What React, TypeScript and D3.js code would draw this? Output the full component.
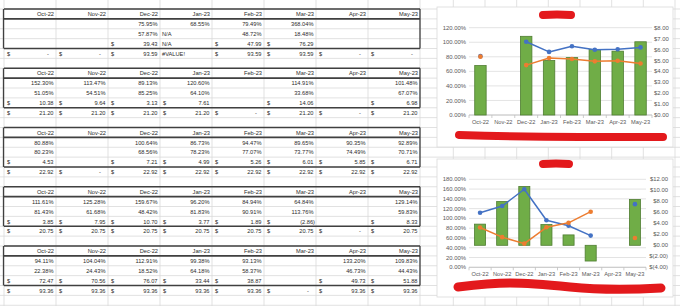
import * as d3 from "d3";

const months = ["Oct-22", "Nov-22", "Dec-22", "Jan-23", "Feb-23", "Mar-23", "Apr-23", "May-23"];

type Cell = number | string | null;

// block 1
const b1Rate: Cell[] = [null, null, 0.7595, 0.6855, 0.7949, 3.6804, null, null];
const b1Share: Cell[] = [null, null, 0.5787, "N/A", 0.4872, 0.1848, null, null];
const b1Cost: Cell[] = [null, null, 39.43, "N/A", 47.99, 76.29, null, null];
const b1Price: Cell[] = [0, 0, 93.59, "#VALUE!", 93.59, 93.59, 0, 0];
// block 2
const b2Rate: Cell[] = [1.523, 1.1347, 0.8913, 1.206, null, 1.1491, null, 1.0148];
const b2Share: Cell[] = [0.5105, 0.5451, 0.8525, 0.641, null, 0.3368, null, 0.6707];
const b2Cost: Cell[] = [10.38, 9.64, 3.13, 7.61, null, 14.06, null, 6.98];
const b2Price: Cell[] = [21.2, 21.2, 21.2, 21.2, 0, 21.2, 0, 21.2];
// block 3 (top chart)
const b3Rate = [0.8088, null, 1.0064, 0.8673, 0.9447, 0.8965, 0.9035, 0.9289];
const b3Share = [0.8023, null, 0.6856, 0.7823, 0.7707, 0.7377, 0.7449, 0.7071];
const b3Cost = [4.53, null, 7.21, 4.99, 5.26, 6.01, 5.85, 6.71];
const b3Price: Cell[] = [22.92, 0, 22.92, 22.92, 22.92, 22.92, 22.92, 22.92];
// block 4 (bottom chart)
const b4Rate = [1.1161, 1.2528, 1.5967, 0.962, 0.8494, 0.6484, null, 1.2914];
const b4Share = [0.8143, 0.6168, 0.4842, 0.8183, 0.9091, 1.1376, null, 0.5983];
const b4Cost = [3.85, 7.95, 10.7, 3.77, 1.89, -2.86, null, 8.33];
const b4Price: Cell[] = [20.75, 20.75, 20.75, 20.75, 20.75, 20.75, 0, 20.75];
// block 5
const b5Rate: Cell[] = [0.9411, 1.0404, 1.1291, 0.9938, 0.9313, null, 1.332, 1.0983];
const b5Share: Cell[] = [0.2238, 0.2443, 0.1852, 0.6418, 0.5837, null, 0.4673, 0.4443];
const b5Cost: Cell[] = [72.47, 70.56, 76.07, 33.44, 38.87, null, 49.73, 51.88];
const b5Price: Cell[] = [93.36, 93.36, 93.36, 93.36, 93.36, 0, 93.36, 93.36];

const topLeftTicks = [0, 0.2, 0.4, 0.6, 0.8, 1.0, 1.2];
const topRightTicks = [0, 1, 2, 3, 4, 5, 6, 7, 8];
const botLeftTicks = [0, 0.2, 0.4, 0.6, 0.8, 1.0, 1.2, 1.4, 1.6, 1.8];
const botRightTicks = [-4, -2, 0, 2, 4, 6, 8, 10, 12];

const blocks = [
  [b1Rate, b1Share, b1Cost, b1Price],
  [b2Rate, b2Share, b2Cost, b2Price],
  [b3Rate, b3Share, b3Cost, b3Price],
  [b4Rate, b4Share, b4Cost, b4Price],
  [b5Rate, b5Share, b5Cost, b5Price],
];

const W = 680;
const H = 306;
const ROW_H = 9.875;
const ROW0 = 9;
const COL0 = 4;
const COL_W = 52;
const FONT = "'Liberation Sans', Arial, sans-serif";
const GRID = "#d9d9d9";
const BORDER = "#404040";
const INK = "#2b2b2b";
const AXIS_INK = "#595959";
const RED = "#e3191c";

const rowTop = (r: number) => ROW0 + r * ROW_H;
const colX = d3.scaleLinear().domain([0, 8]).range([COL0, COL0 + 8 * COL_W]);
const pct = d3.format(".2%");

function CellText({ v, col, row, kind }: { v: Cell; col: number; row: number; kind: "pct" | "usd" }) {
  if (v === null) return null;
  const l = colX(col);
  const r = colX(col + 1);
  const y = rowTop(row) + 7.2;
  if (typeof v === "string") {
    return <text x={l + 2} y={y}>{v}</text>;
  }
  if (kind === "pct") {
    return <text x={r - 2.5} y={y} textAnchor="end">{pct(v)}</text>;
  }
  let body;
  if (v === 0) body = <text x={r - 7} y={y} textAnchor="end">-</text>;
  else if (v < 0) body = <text x={r - 1} y={y} textAnchor="end">{`(${Math.abs(v).toFixed(2)})`}</text>;
  else body = <text x={r - 2.5} y={y} textAnchor="end">{v.toFixed(2)}</text>;
  return (
    <g>
      <text x={l + 3} y={y}>$</text>
      {body}
    </g>
  );
}

function Sheet() {
  const hLines = d3.range(-1, 31).map(rowTop);
  const vLines = [COL0, ...d3.range(1, 9).map((i) => colX(i)), 453.3, 485, 516.7, 548.3, 580, 611.7, 643.3, 675];
  const left = colX(0);
  const right = colX(8);
  return (
    <g>
      {hLines.map((y, i) => (
        <line key={`h${i}`} x1={0} x2={W} y1={y} y2={y} stroke={GRID} strokeWidth={0.8} />
      ))}
      {vLines.map((x, i) => (
        <line key={`v${i}`} x1={x} x2={x} y1={0} y2={H} stroke={GRID} strokeWidth={0.8} />
      ))}
      {blocks.map((b, s) => {
        const r0 = s * 6;
        const kinds: ("pct" | "usd")[] = ["pct", "pct", "usd", "usd"];
        return (
          <g key={s}>
            <g fontFamily={FONT} fontSize={5.7} fill={INK}>
              {months.map((m, c) => (
                <text key={m} x={colX(c + 1) - 2} y={rowTop(r0) + 7.2} textAnchor="end">
                  {m}
                </text>
              ))}
              {b.map((vals, k) =>
                vals.map((v, c) => <CellText key={`${k}-${c}`} v={v} col={c} row={r0 + 1 + k} kind={kinds[k]} />)
              )}
            </g>
            <g stroke={BORDER} fill="none">
              <line x1={left} x2={right} y1={rowTop(r0)} y2={rowTop(r0)} strokeWidth={1.3} />
              <line x1={left} x2={right} y1={rowTop(r0 + 1)} y2={rowTop(r0 + 1)} strokeWidth={1.6} />
              <line x1={left} x2={right} y1={rowTop(r0 + 4)} y2={rowTop(r0 + 4)} strokeWidth={1.3} />
              <line x1={left - 0.5} x2={left - 0.5} y1={rowTop(r0)} y2={rowTop(r0 + 4)} strokeWidth={1.3} />
              <line x1={right} x2={right} y1={rowTop(r0)} y2={rowTop(r0 + 4)} strokeWidth={1.3} />
            </g>
          </g>
        );
      })}
    </g>
  );
}

interface ChartProps {
  box: { x: number; y: number; w: number; h: number };
  plot: { x0: number; x1: number; top: number; bottom: number };
  leftTicks: number[];
  rightTicks: number[];
  rightLabelX: number;
  rightAnchor: "start" | "end";
  catLabelY: number;
  rate: (number | null)[];
  share: (number | null)[];
  cost: (number | null)[];
  titleBlob: string;
  footBlob: string;
  footWidth: number;
}

const usd = (v: number) => (v < 0 ? `$(${Math.abs(v).toFixed(2)})` : `$${v.toFixed(2)}`);

function ComboChart(p: ChartProps) {
  const x = d3.scaleBand<string>().domain(months).range([p.plot.x0, p.plot.x1]).padding(0);
  const yL = d3
    .scaleLinear()
    .domain([p.leftTicks[0], p.leftTicks[p.leftTicks.length - 1]])
    .range([p.plot.bottom, p.plot.top]);
  const yR = d3
    .scaleLinear()
    .domain([p.rightTicks[0], p.rightTicks[p.rightTicks.length - 1]])
    .range([p.plot.bottom, p.plot.top]);
  const bw = x.bandwidth() * 0.5;
  const cx = (i: number) => (x(months[i]) ?? 0) + x.bandwidth() / 2;

  const line = d3
    .line<number | null>()
    .defined((d) => d !== null)
    .x((_, i) => cx(i))
    .y((d) => yL(d as number));

  return (
    <g fontFamily={FONT}>
      <rect x={p.box.x} y={p.box.y} width={p.box.w} height={p.box.h} fill="#fff" stroke={GRID} strokeWidth={0.8} />
      {p.leftTicks.map((t) => (
        <g key={t}>
          <line x1={p.plot.x0} x2={p.plot.x1} y1={yL(t)} y2={yL(t)} stroke={GRID} strokeWidth={0.75} />
          <text x={p.plot.x0 - 3} y={yL(t)} dy="0.35em" textAnchor="end" fontSize={5.9} fill={AXIS_INK}>
            {pct(t)}
          </text>
        </g>
      ))}
      {p.rightTicks.map((t) => (
        <text key={t} x={p.rightLabelX} y={yR(t)} dy="0.35em" textAnchor={p.rightAnchor} fontSize={5.9} fill={AXIS_INK}>
          {usd(t)}
        </text>
      ))}
      <line x1={p.plot.x0} x2={p.plot.x1} y1={p.plot.bottom} y2={p.plot.bottom} stroke="#bfbfbf" strokeWidth={0.8} />
      {d3.range(0, 9).map((i) => {
        const xx = p.plot.x0 + i * x.bandwidth();
        return <line key={i} x1={xx} x2={xx} y1={p.plot.bottom} y2={p.plot.bottom + 3} stroke="#bfbfbf" strokeWidth={0.8} />;
      })}
      {months.map((m, i) => (
        <text key={m} x={cx(i)} y={p.catLabelY} textAnchor="middle" fontSize={5.7} fill={AXIS_INK}>
          {m}
        </text>
      ))}
      {p.cost.map((v, i) =>
        v === null ? null : (
          <rect
            key={i}
            x={cx(i) - bw / 2}
            y={Math.min(yR(v), yR(0))}
            width={bw}
            height={Math.abs(yR(v) - yR(0))}
            fill="#70ad47"
            stroke="#4f7d31"
            strokeWidth={0.8}
          />
        )
      )}
      {[
        { vals: p.rate, color: "#4472c4" },
        { vals: p.share, color: "#ed7d31" },
      ].map((s) => (
        <g key={s.color}>
          <path d={line(s.vals) ?? ""} fill="none" stroke={s.color} strokeWidth={1.5} strokeLinejoin="round" />
          {s.vals.map((v, i) => (v === null ? null : <circle key={i} cx={cx(i)} cy={yL(v)} r={2.3} fill={s.color} />))}
        </g>
      ))}
      <path d={p.titleBlob} fill="none" stroke={RED} strokeWidth={8} strokeLinecap="round" />
      <path d={p.footBlob} fill="none" stroke={RED} strokeWidth={p.footWidth} strokeLinecap="round" />
    </g>
  );
}

export default function App() {
  return (
    <svg
      width={W}
      height={H}
      viewBox={`0 0 ${W} ${H}`}
      style={{ position: "absolute", left: 0, top: 0, background: "#fff" }}
    >
      <rect x={0} y={0} width={W} height={H} fill="#fff" />
      <Sheet />
      <ComboChart
        box={{ x: 437, y: 7, w: 236, h: 140 }}
        plot={{ x0: 469, x1: 652, top: 27.7, bottom: 115 }}
        leftTicks={topLeftTicks}
        rightTicks={topRightTicks}
        rightLabelX={654}
        rightAnchor="start"
        catLabelY={124}
        rate={b3Rate}
        share={b3Share}
        cost={b3Cost}
        titleBlob="M543,15 Q557,14 571,15"
        footBlob="M459,135 Q520,137 580,137 T663,137"
        footWidth={8}
      />
      <ComboChart
        box={{ x: 437, y: 159, w: 236, h: 138 }}
        plot={{ x0: 469, x1: 646, top: 179.3, bottom: 267.3 }}
        leftTicks={botLeftTicks}
        rightTicks={botRightTicks}
        rightLabelX={668}
        rightAnchor="end"
        catLabelY={276}
        rate={b4Rate}
        share={b4Share}
        cost={b4Cost}
        titleBlob="M543,164 Q556,163 569,164"
        footBlob="M458,287 Q490,283 510,283 T570,287 T661,288"
        footWidth={9}
      />
    </svg>
  );
}
